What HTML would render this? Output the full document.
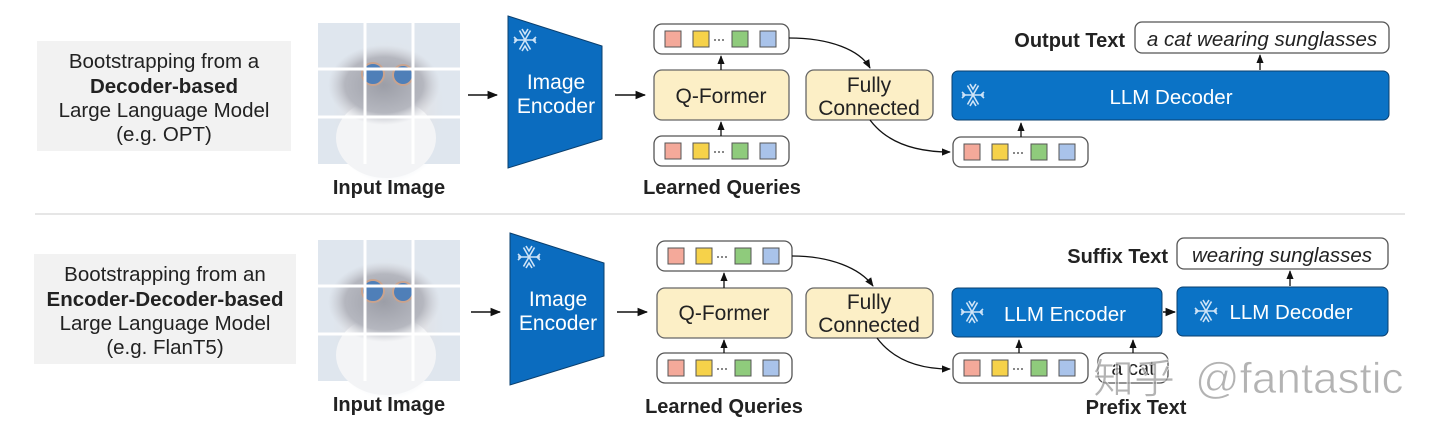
<!DOCTYPE html>
<html><head><meta charset="utf-8"><style>
html,body{margin:0;padding:0;background:#fff;width:1440px;height:436px;overflow:hidden}
svg{display:block}
text{font-family:"Liberation Sans",Arial,sans-serif}
</style></head><body>
<svg width="1440" height="436" viewBox="0 0 1440 436" xmlns="http://www.w3.org/2000/svg">
<defs>
<marker id="ah" viewBox="0 0 10 10" refX="9" refY="5" markerWidth="7" markerHeight="7" orient="auto"><path d="M0,1 L10,5 L0,9 z" fill="#111"/></marker>
<radialGradient id="catg" cx="0.5" cy="0.5" r="0.5">
<stop offset="0" stop-color="#f2f2f4"/><stop offset="0.6" stop-color="#e2e3e7"/><stop offset="1" stop-color="#dde5ee" stop-opacity="0"/></radialGradient>
<radialGradient id="headg" cx="0.5" cy="0.5" r="0.5">
<stop offset="0" stop-color="#9c9ea7"/><stop offset="0.7" stop-color="#b5b7bf"/><stop offset="1" stop-color="#c9cbd2" stop-opacity="0"/></radialGradient>
<g id="cat">
<rect x="0" y="0" width="142" height="141" fill="#dfe6ee"/>
<ellipse cx="70" cy="85" rx="62" ry="75" fill="url(#catg)"/>
<ellipse cx="68" cy="115" rx="50" ry="40" fill="#f3f4f6"/>
<ellipse cx="66" cy="62" rx="56" ry="40" fill="url(#headg)"/>
<circle cx="55" cy="51" r="11" fill="#4f7fb8" stroke="#c9a38e" stroke-width="2"/>
<circle cx="85" cy="52" r="10" fill="#4f7fb8" stroke="#c9a38e" stroke-width="2"/>
<line x1="0" y1="46" x2="142" y2="46" stroke="#fff" stroke-width="3"/>
<line x1="0" y1="94" x2="142" y2="94" stroke="#fff" stroke-width="3"/>
<line x1="47" y1="0" x2="47" y2="141" stroke="#fff" stroke-width="3"/>
<line x1="95" y1="0" x2="95" y2="141" stroke="#fff" stroke-width="3"/>
</g>
<g id="tok">
<rect x="0" y="0" width="135" height="30" rx="8" fill="#fff" stroke="#555" stroke-width="1.3"/>
<rect x="11" y="7" width="16" height="16" fill="#f4a99a" stroke="#555" stroke-width="1"/>
<rect x="39" y="7" width="16" height="16" fill="#f6d24a" stroke="#555" stroke-width="1"/>
<circle cx="61" cy="16" r="0.9" fill="#333"/><circle cx="65" cy="16" r="0.9" fill="#333"/><circle cx="69" cy="16" r="0.9" fill="#333"/>
<rect x="78" y="7" width="16" height="16" fill="#8fcb7c" stroke="#555" stroke-width="1"/>
<rect x="106" y="7" width="16" height="16" fill="#a9c3ea" stroke="#555" stroke-width="1"/>
</g>
<g id="snow" stroke="#cfe4f7" stroke-width="1.6" fill="none">
<line x1="-11" y1="0" x2="11" y2="0"/><line x1="-5.5" y1="-9.5" x2="5.5" y2="9.5"/><line x1="-5.5" y1="9.5" x2="5.5" y2="-9.5"/>
<path d="M-11,-3 L-8,0 L-11,3 M11,-3 L8,0 L11,3 M-3,-11 L0,-6 L3,-11 M-3,11 L0,6 L3,11"/>
</g>
</defs>

<!-- ROW 1 -->
<rect x="37" y="41" width="254" height="110" fill="#f2f2f2"/>
<g font-size="20.5" fill="#222" text-anchor="middle">
<text x="164" y="68">Bootstrapping from a</text>
<text x="164" y="93" font-weight="bold">Decoder-based</text>
<text x="164" y="117">Large Language Model</text>
<text x="164" y="141">(e.g. OPT)</text>
</g>
<use href="#cat" x="318" y="23"/>
<text x="389" y="194" font-size="20" font-weight="bold" fill="#222" text-anchor="middle">Input Image</text>
<line x1="468" y1="95" x2="497" y2="95" stroke="#111" stroke-width="1.5" marker-end="url(#ah)"/>
<path d="M508,16 L602,46 L602,139 L508,168 z" fill="#0b6cbf" stroke="#0a3f6e" stroke-width="1"/>
<use href="#snow" x="525" y="40"/>
<text x="556" y="89" font-size="21" fill="#fff" text-anchor="middle">Image</text>
<text x="556" y="113" font-size="21" fill="#fff" text-anchor="middle">Encoder</text>
<line x1="615" y1="95" x2="645" y2="95" stroke="#111" stroke-width="1.5" marker-end="url(#ah)"/>
<use href="#tok" x="654" y="24"/>
<rect x="654" y="70" width="135" height="50" rx="8" fill="#fcefc6" stroke="#666" stroke-width="1.3"/>
<text x="721" y="103" font-size="21" fill="#222" text-anchor="middle">Q-Former</text>
<use href="#tok" x="654" y="136"/>
<line x1="721" y1="136" x2="721" y2="122" stroke="#111" stroke-width="1.3" marker-end="url(#ah)"/>
<line x1="721" y1="70" x2="721" y2="56" stroke="#111" stroke-width="1.3" marker-end="url(#ah)"/>
<text x="722" y="194" font-size="20" font-weight="bold" fill="#222" text-anchor="middle">Learned Queries</text>
<path d="M789,38 C830,38 860,50 870,68" fill="none" stroke="#111" stroke-width="1.3" marker-end="url(#ah)"/>
<rect x="806" y="70" width="127" height="50" rx="8" fill="#fcefc6" stroke="#666" stroke-width="1.3"/>
<text x="869" y="92" font-size="21" fill="#222" text-anchor="middle">Fully</text>
<text x="869" y="115" font-size="21" fill="#222" text-anchor="middle">Connected</text>
<path d="M870,120 C885,140 910,152 950,152" fill="none" stroke="#111" stroke-width="1.3" marker-end="url(#ah)"/>
<use href="#tok" x="953" y="137"/>
<line x1="1021" y1="137" x2="1021" y2="123" stroke="#111" stroke-width="1.3" marker-end="url(#ah)"/>
<rect x="952" y="71" width="437" height="49" rx="6" fill="#0b73c6" stroke="#0a3f6e" stroke-width="1"/>
<use href="#snow" x="973" y="95"/>
<text x="1171" y="104" font-size="20.5" fill="#fff" text-anchor="middle">LLM Decoder</text>
<line x1="1260" y1="70" x2="1260" y2="55" stroke="#111" stroke-width="1.3" marker-end="url(#ah)"/>
<text x="1125" y="47" font-size="20" font-weight="bold" fill="#222" text-anchor="end">Output Text</text>
<rect x="1135" y="22" width="254" height="31" rx="7" fill="#fff" stroke="#555" stroke-width="1.3"/>
<text x="1262" y="46" font-size="20.5" font-style="italic" fill="#222" text-anchor="middle">a cat wearing sunglasses</text>

<line x1="35" y1="214" x2="1405" y2="214" stroke="#ddd" stroke-width="1.5"/>

<!-- ROW 2 -->
<rect x="34" y="254" width="262" height="110" fill="#f2f2f2"/>
<g font-size="20.5" fill="#222" text-anchor="middle">
<text x="165" y="281">Bootstrapping from an</text>
<text x="165" y="306" font-weight="bold">Encoder-Decoder-based</text>
<text x="165" y="330">Large Language Model</text>
<text x="165" y="354">(e.g. FlanT5)</text>
</g>
<use href="#cat" x="318" y="240"/>
<text x="389" y="411" font-size="20" font-weight="bold" fill="#222" text-anchor="middle">Input Image</text>
<line x1="471" y1="312" x2="500" y2="312" stroke="#111" stroke-width="1.5" marker-end="url(#ah)"/>
<path d="M510,233 L604,263 L604,356 L510,385 z" fill="#0b6cbf" stroke="#0a3f6e" stroke-width="1"/>
<use href="#snow" x="529" y="257"/>
<text x="558" y="306" font-size="21" fill="#fff" text-anchor="middle">Image</text>
<text x="558" y="330" font-size="21" fill="#fff" text-anchor="middle">Encoder</text>
<line x1="617" y1="312" x2="647" y2="312" stroke="#111" stroke-width="1.5" marker-end="url(#ah)"/>
<use href="#tok" x="657" y="241"/>
<rect x="657" y="288" width="135" height="50" rx="8" fill="#fcefc6" stroke="#666" stroke-width="1.3"/>
<text x="724" y="320" font-size="21" fill="#222" text-anchor="middle">Q-Former</text>
<use href="#tok" x="657" y="353"/>
<line x1="724" y1="353" x2="724" y2="340" stroke="#111" stroke-width="1.3" marker-end="url(#ah)"/>
<line x1="724" y1="288" x2="724" y2="273" stroke="#111" stroke-width="1.3" marker-end="url(#ah)"/>
<text x="724" y="413" font-size="20" font-weight="bold" fill="#222" text-anchor="middle">Learned Queries</text>
<path d="M792,256 C830,256 860,268 873,286" fill="none" stroke="#111" stroke-width="1.3" marker-end="url(#ah)"/>
<rect x="806" y="288" width="127" height="50" rx="8" fill="#fcefc6" stroke="#666" stroke-width="1.3"/>
<text x="869" y="309" font-size="21" fill="#222" text-anchor="middle">Fully</text>
<text x="869" y="332" font-size="21" fill="#222" text-anchor="middle">Connected</text>
<path d="M877,338 C892,358 915,369 950,369" fill="none" stroke="#111" stroke-width="1.3" marker-end="url(#ah)"/>
<use href="#tok" x="953" y="353"/>
<line x1="1019" y1="353" x2="1019" y2="340" stroke="#111" stroke-width="1.3" marker-end="url(#ah)"/>
<rect x="1098" y="353" width="70" height="30" rx="8" fill="#fff" stroke="#555" stroke-width="1.3"/>
<text x="1133" y="375" font-size="20" fill="#222" text-anchor="middle">a cat</text>
<line x1="1133" y1="353" x2="1133" y2="340" stroke="#111" stroke-width="1.3" marker-end="url(#ah)"/>
<rect x="952" y="288" width="210" height="49" rx="6" fill="#0b73c6" stroke="#0a3f6e" stroke-width="1"/>
<use href="#snow" x="972" y="312"/>
<text x="1065" y="321" font-size="20.5" fill="#fff" text-anchor="middle">LLM Encoder</text>
<line x1="1163" y1="312" x2="1175" y2="312" stroke="#111" stroke-width="1.5" marker-end="url(#ah)"/>
<rect x="1177" y="287" width="211" height="49" rx="6" fill="#0b73c6" stroke="#0a3f6e" stroke-width="1"/>
<use href="#snow" x="1206" y="311"/>
<text x="1291" y="319" font-size="20.5" fill="#fff" text-anchor="middle">LLM Decoder</text>
<line x1="1290" y1="286" x2="1290" y2="271" stroke="#111" stroke-width="1.3" marker-end="url(#ah)"/>
<text x="1168" y="263" font-size="20" font-weight="bold" fill="#222" text-anchor="end">Suffix Text</text>
<rect x="1177" y="238" width="211" height="31" rx="7" fill="#fff" stroke="#555" stroke-width="1.3"/>
<text x="1282" y="262" font-size="20.5" font-style="italic" fill="#222" text-anchor="middle">wearing sunglasses</text>
<text x="1136" y="414" font-size="20" font-weight="bold" fill="#222" text-anchor="middle">Prefix Text</text>

<!-- watermark -->
<g fill="#9a9a9a" opacity="0.75" stroke="#fff" stroke-width="0.8">
<text x="1093" y="393" font-size="41" font-family="'Noto Sans CJK SC',sans-serif">知乎</text>
<text x="1195" y="393" font-size="44">@fantastic</text>
</g>
</svg>
</body></html>
